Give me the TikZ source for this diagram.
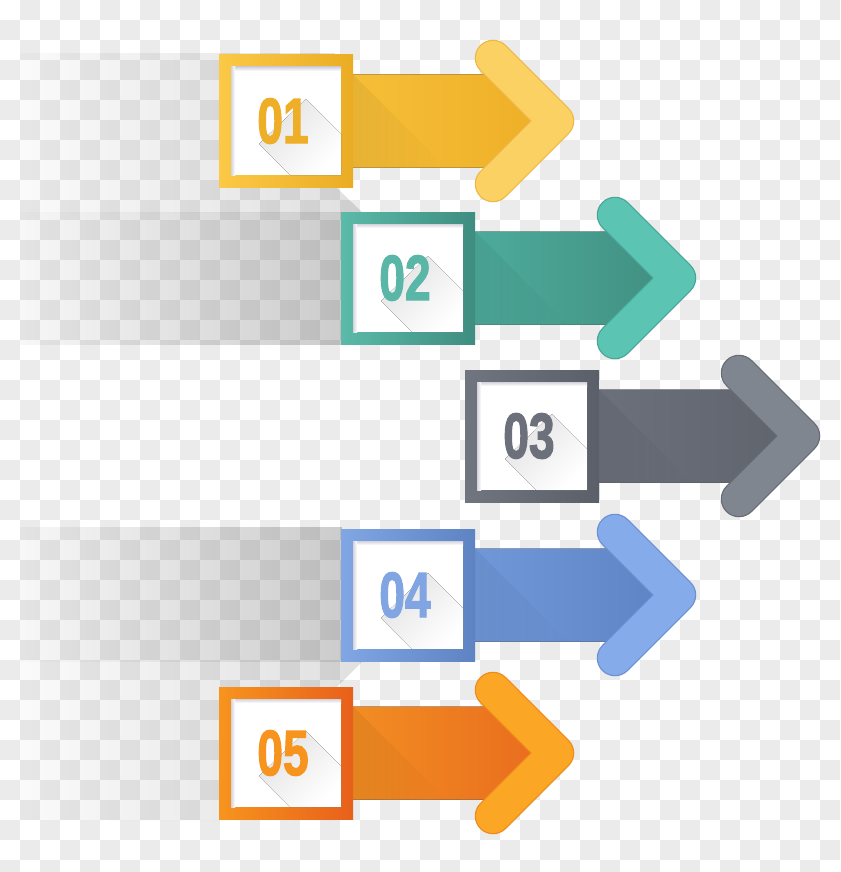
\documentclass[tikz,border=0pt]{standalone}
\usepackage{fontspec}
\usepackage{graphicx}
\setmainfont{Liberation Sans}
\newfontfamily\digfam{Liberation Sans}[UprightFont=* Bold, FakeBold=2.2]
\usetikzlibrary{fadings}

% row colours: a=01 yellow, b=02 teal, c=03 gray, d=04 blue, e=05 orange
\definecolor{frLa}{HTML}{FBC946}\definecolor{frRa}{HTML}{EBAC24}
\definecolor{shLa}{HTML}{F6BE38}\definecolor{shMa}{HTML}{FCD052}\definecolor{shRa}{HTML}{EEAE26}
\definecolor{chva}{HTML}{FCD163}\definecolor{chEa}{HTML}{EDB848}\definecolor{diga}{HTML}{EEAE28}

\definecolor{frLb}{HTML}{5BBAA9}\definecolor{frRb}{HTML}{3E8D80}
\definecolor{shLb}{HTML}{4DAB9B}\definecolor{shMb}{HTML}{58B7A7}\definecolor{shRb}{HTML}{408E80}
\definecolor{chvb}{HTML}{5BC4B3}\definecolor{chEb}{HTML}{48A596}\definecolor{digb}{HTML}{5AB7A7}

\definecolor{frLc}{HTML}{70757F}\definecolor{frRc}{HTML}{5A5F69}
\definecolor{shLc}{HTML}{6B707A}\definecolor{shMc}{HTML}{70757F}\definecolor{shRc}{HTML}{5E636C}
\definecolor{chvc}{HTML}{80868F}\definecolor{chEc}{HTML}{666B74}\definecolor{digc}{HTML}{6B707A}

\definecolor{frLd}{HTML}{80A6E3}\definecolor{frRd}{HTML}{5E83C3}
\definecolor{shLd}{HTML}{7098D9}\definecolor{shMd}{HTML}{80A6E5}\definecolor{shRd}{HTML}{5D82C4}
\definecolor{chvd}{HTML}{85ABEB}\definecolor{chEd}{HTML}{6A90D2}\definecolor{digd}{HTML}{80A5E2}

\definecolor{frLe}{HTML}{F7941D}\definecolor{frRe}{HTML}{E8601B}
\definecolor{shLe}{HTML}{F28D22}\definecolor{shMe}{HTML}{F7981F}\definecolor{shRe}{HTML}{E86A1E}
\definecolor{chve}{HTML}{FCA625}\definecolor{chEe}{HTML}{EE8A1C}\definecolor{dige}{HTML}{F7941E}

\definecolor{checkgray}{HTML}{EBEBEB}
\definecolor{innsh}{HTML}{D4D2DC}

\tikzfading[name=shfade, left color=transparent!85, right color=transparent!0]
\tikzfading[name=boxfade, left color=transparent!0, right color=transparent!100]

\newcommand\digits[1]{\scalebox{0.72}[1]{\digfam\fontsize{64}{64}\selectfont #1}}

\newcommand\arrowrow[4]{%
  \def\cx{#1}\def\cy{#2}%
  % shaft
  \fill[left color=shL#3, middle color=shM#3, right color=shR#3]
    ({\cx+67},{\cy-46.5}) -- ({\cx+223.5},{\cy-46.5}) -- ({\cx+270},{\cy})
    -- ({\cx+223.5},{\cy+46.5}) -- ({\cx+67},{\cy+46.5}) -- cycle;
  % shadow of the box on the shaft
  \fill[black, fill opacity=0.06, path fading=boxfade]
    ({\cx+67},{\cy-46.5}) -- ({\cx+160},{\cy+46.5}) -- ({\cx+67},{\cy+46.5}) -- cycle;
  % chevron
  \draw[chevedge, draw=chE#3] ({\cx+207},{\cy-63}) -- ({\cx+270},{\cy}) -- ({\cx+207},{\cy+63});
  \draw[chevbody, draw=chv#3] ({\cx+207},{\cy-63}) -- ({\cx+270},{\cy}) -- ({\cx+207},{\cy+63});
  % frame
  \fill[left color=frL#3, right color=frR#3] ({\cx-67},{\cy-66}) rectangle ({\cx+67},{\cy+66});
  \fill[white] ({\cx-55},{\cy-54}) rectangle ({\cx+55},{\cy+54});
  \fill[top color=innsh, bottom color=white] ({\cx-55},{\cy-54}) rectangle ({\cx+55},{\cy-50});
  \fill[left color=innsh, right color=white] ({\cx-55},{\cy-54}) rectangle ({\cx-51},{\cy+54});
  % long shadow of the digits
  \fill[top color=black!11, bottom color=white, shading angle=45]
    ({\cx+20},{\cy-22}) -- ({\cx+55},{\cy+13}) -- ({\cx+55},{\cy+54})
    -- ({\cx+4},{\cy+54}) -- ({\cx-27},{\cy+23}) -- cycle;
  \node[digit, text=dig#3] (n#3) at ({\cx-3},{\cy}) {\digits{#4}};
}

\tikzset{
  chevedge/.style={line width=36.5pt, line cap=round, line join=round},
  chevbody/.style={line width=34pt, line cap=round, line join=round},
  digit/.style={inner sep=0pt, outer sep=0pt},
  bandshadow/.style={fill=black, path fading=shfade},
}

\begin{document}
\begin{tikzpicture}[x=1pt, y=-1pt]
\useasboundingbox (0,0) rectangle (840,872);
% checkerboard background
\fill[white] (0,0) rectangle (840,872);
\foreach \yy in {0,40,...,840}{\foreach \xx in {20,60,...,820}{\fill[checkgray] (\xx,\yy) rectangle ++(20,20);}}
\foreach \yy in {20,60,...,860}{\foreach \xx in {0,40,...,800}{\fill[checkgray] (\xx,\yy) rectangle ++(20,20);}}

% long shadows
\fill[bandshadow, fill opacity=0.12] (20,53) -- (335,53) -- (335,186) -- (362,212) -- (20,212) -- cycle;
\fill[bandshadow, fill opacity=0.2] (20,212) rectangle (342,345);
\fill[bandshadow, fill opacity=0.2] (20,527) rectangle (342,662);
\fill[bandshadow, fill opacity=0.12] (20,662) -- (362,662) -- (335,689) -- (335,820) -- (20,820) -- cycle;

% rows
\arrowrow{286}{121}{a}{01}
\arrowrow{408}{278}{b}{02}
\arrowrow{532}{436}{c}{03}
\arrowrow{408}{595}{d}{04}
\arrowrow{286}{753}{e}{05}
\end{tikzpicture}
\end{document}
